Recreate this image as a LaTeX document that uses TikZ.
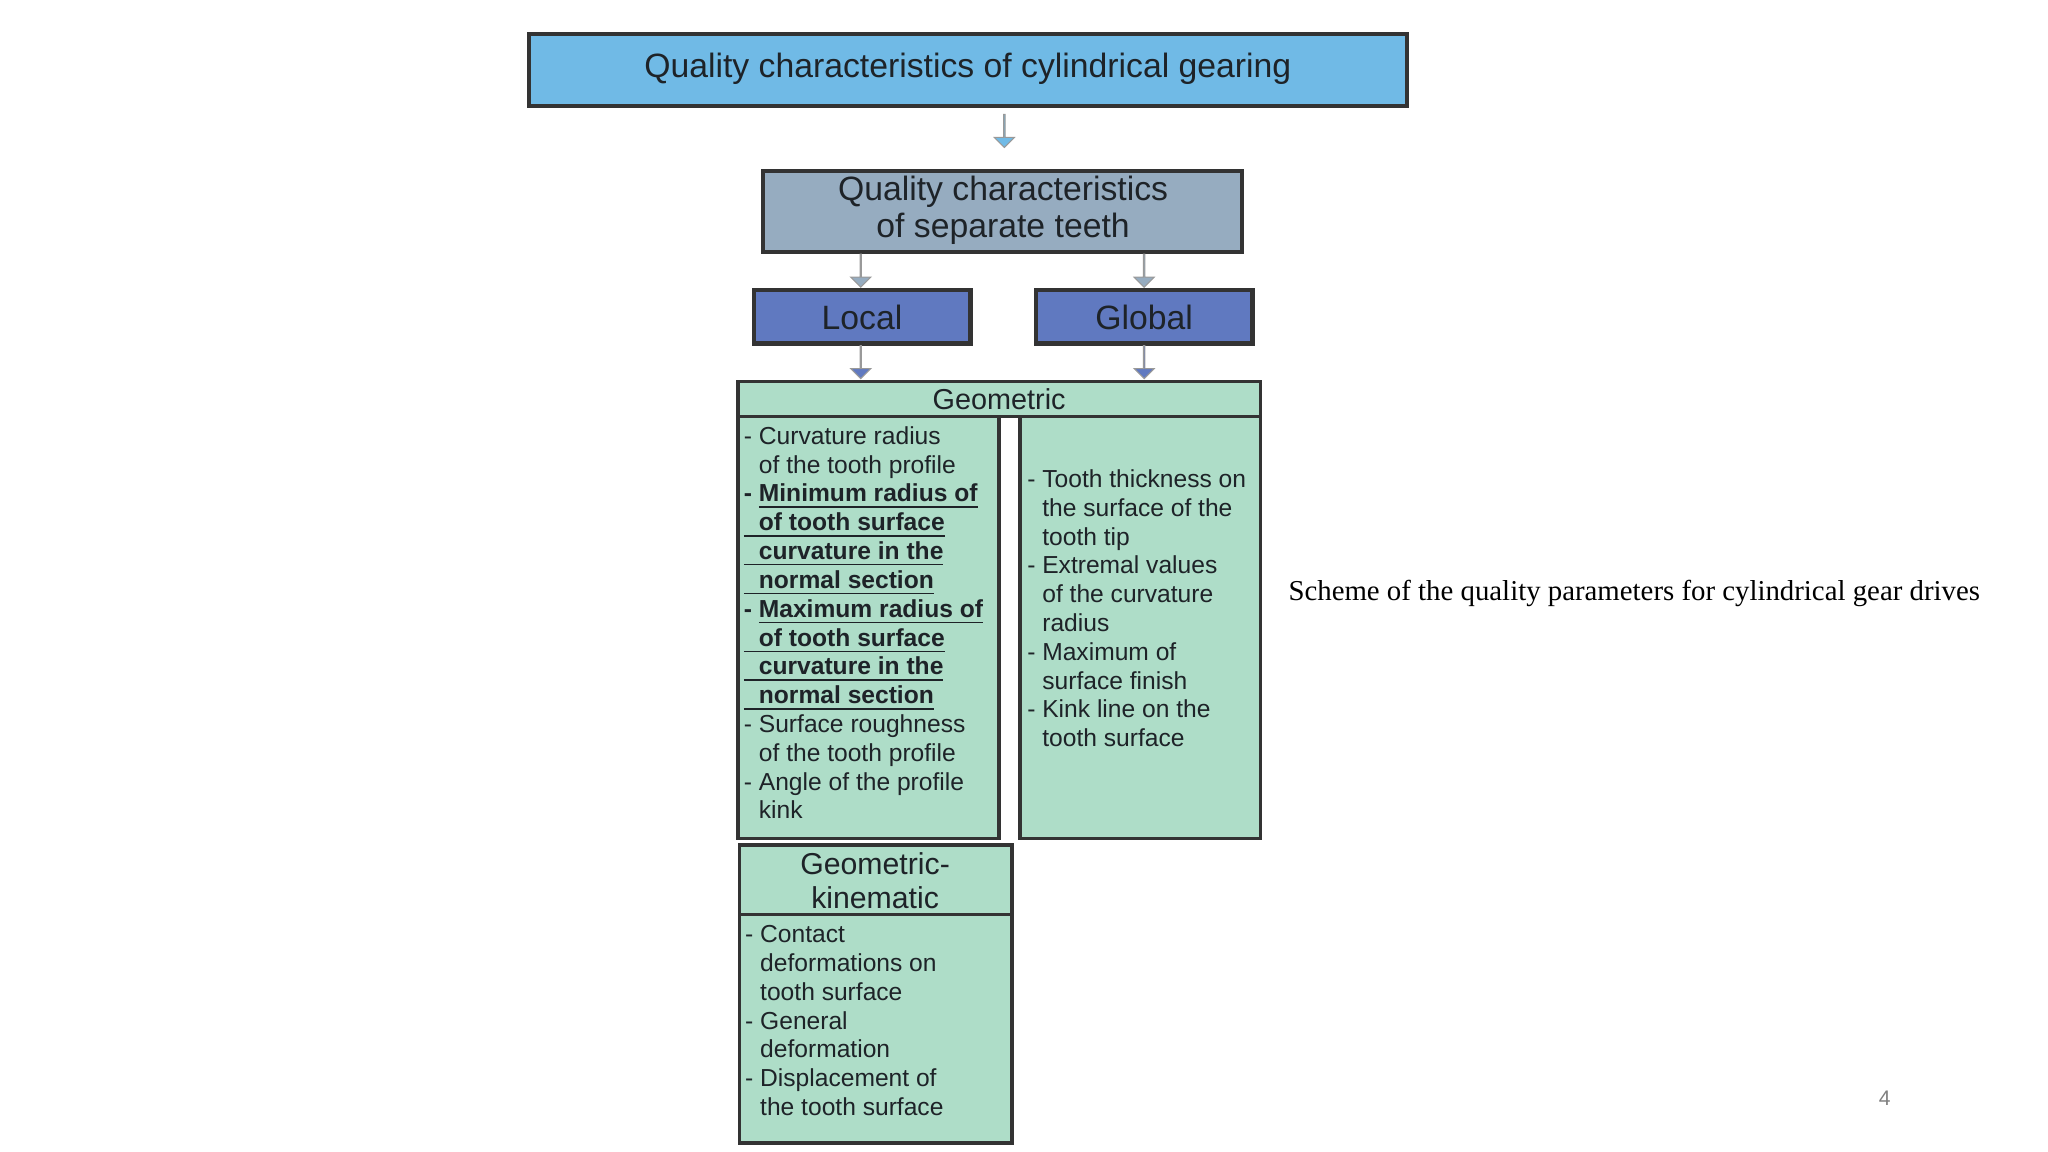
\documentclass[tikz,border=0pt]{standalone}
\usepackage{fontspec}
\setmainfont{Liberation Sans}
\newfontfamily\serifcap{Liberation Serif}
\usetikzlibrary{shapes.arrows}
\definecolor{cTop}{RGB}{112,186,230}
\definecolor{cSep}{RGB}{150,172,192}
\definecolor{cLG}{RGB}{96,121,192}
\definecolor{cMint}{RGB}{174,221,200}
\definecolor{cTxt}{RGB}{30,35,40}
\tikzset{
 box/.style={draw=black!80,line width=1.2pt,text=cTxt},
 barrow/.style={single arrow,draw=black!40,line width=0.3pt,fill=#1,rotate=-90,minimum height=0.33cm,single arrow head extend=0.07cm,minimum width=0.2cm,inner sep=0pt},
 body/.style={anchor=north west,align=left,font=\fontsize{7}{8.2}\selectfont,text=cTxt,inner sep=0pt}
}
\newcommand\ind{\phantom{- }}
\begin{document}
\begin{tikzpicture}[x=0.01306cm,y=-0.01306cm]
\useasboundingbox (0,0) rectangle (1568,882);
% title
\draw[box,fill=cTop] (405,26) rectangle (1077,81);
\node[text=cTxt,font=\fontsize{9.6}{11}\selectfont] (t) at (741,53) {Quality characteristics of cylindrical gearing};
\draw[box,fill=cSep] (584,131) rectangle (951,193);
\node[text=cTxt,align=center,font=\fontsize{9.6}{10.8}\selectfont] (s) at (768,161) {Quality characteristics\\of separate teeth};
\node[barrow=cTop] (a1) at (769,100) {};
\draw[box,fill=cLG] (577,222) rectangle (743,263);
\node[text=cTxt,font=\fontsize{9.6}{11}\selectfont] (l) at (660,243) {Local};
\draw[box,fill=cLG] (793,222) rectangle (959,263);
\node[text=cTxt,font=\fontsize{9.6}{11}\selectfont] (g) at (876,243) {Global};
\node[barrow=cSep] (a2) at (659,207) {};
\node[barrow=cSep] (a3) at (876,207) {};
\node[barrow=cLG] (a4) at (659,277) {};
\node[barrow=cLG] (a5) at (876,277) {};
% geometric
\draw[box,line width=1pt,fill=cMint] (565,292) rectangle (965,319);
\node[text=cTxt,font=\fontsize{8.2}{9}\selectfont] (geo) at (765,306) {Geometric};
\draw[box,line width=1pt,fill=cMint] (565,319) rectangle (765,642);
\draw[box,line width=1pt,fill=cMint] (781,319) rectangle (965,642);
\node[body] (lc) at (569,326) {- Curvature radius\\
\ind of the tooth profile\\
\textbf{- \underline{Minimum radius of}}\\
\textbf{\underline{\ind of tooth surface}}\\
\textbf{\underline{\ind curvature in the}}\\
\textbf{\underline{\ind normal section}}\\
\textbf{- \underline{Maximum radius of}}\\
\textbf{\underline{\ind of tooth surface}}\\
\textbf{\underline{\ind curvature in the}}\\
\textbf{\underline{\ind normal section}}\\
- Surface roughness\\
\ind of the tooth profile\\
- Angle of the profile\\
\ind kink};
\node[body] (rc) at (786,359) {- Tooth thickness on\\
\ind the surface of the\\
\ind tooth tip\\
- Extremal values\\
\ind of the curvature\\
\ind radius\\
- Maximum of\\
\ind surface finish\\
- Kink line on the\\
\ind tooth surface};
% geometric-kinematic
\draw[box,line width=1pt,fill=cMint] (566,647) rectangle (775,700);
\node[text=cTxt,align=center,font=\fontsize{8.6}{9.6}\selectfont] (gk) at (670,674) {Geometric-\\kinematic};
\draw[box,line width=1pt,fill=cMint] (566,700) rectangle (775,875);
\node[body] (kc) at (570,708) {- Contact\\
\ind deformations on\\
\ind tooth surface\\
- General\\
\ind deformation\\
- Displacement of\\
\ind the tooth surface};
\node[anchor=west,inner sep=0pt,font=\serifcap\fontsize{8.2}{9}\selectfont] (cap) at (986,454) {Scheme of the quality parameters for cylindrical gear drives};
\node[text=black!50,font=\fontsize{6}{7}\selectfont] (pn) at (1443,841) {4};
\end{tikzpicture}
\end{document}
